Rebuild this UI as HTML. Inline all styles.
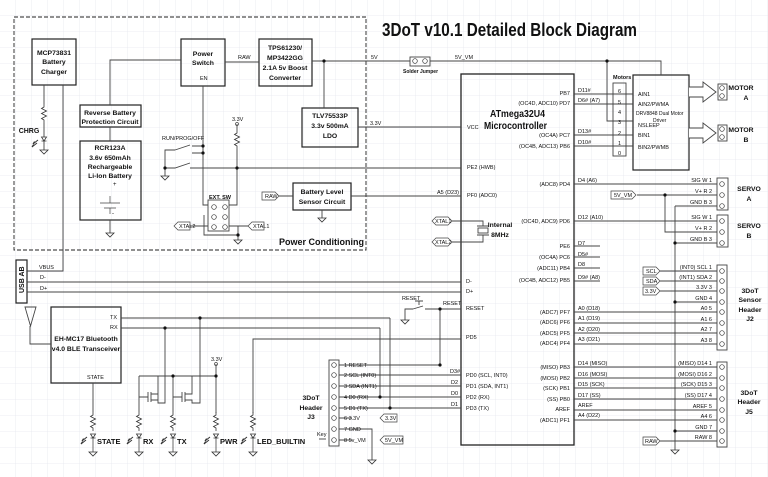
<!DOCTYPE html>
<html><head><meta charset="utf-8"><style>
html,body{margin:0;padding:0;background:#fff}
svg{display:block}
text{font-family:"Liberation Sans",sans-serif;fill:#111}
.s{font-size:5.5px}
.b{font-size:6.8px;font-weight:bold}
.h{font-size:8.5px;font-weight:bold}
</style></head><body>
<svg width="768" height="477" viewBox="0 0 768 477" xmlns="http://www.w3.org/2000/svg">
<defs>
<pattern id="g" width="16" height="16" patternUnits="userSpaceOnUse"><path d="M16 0V16M0 16H16" stroke="#e6e8ef" stroke-width="0.8" fill="none"/></pattern>
<g id="gnd"><path d="M-4 0H4L0 4Z" fill="#fff" stroke="#333" stroke-width="0.8"/></g>
<g id="res"><path d="M0 0V3L-2.5 4.5L2.5 7L-2.5 9.5L2.5 12L-2.5 14.5L0 16V19" fill="none" stroke="#333" stroke-width="0.8"/></g>
<g id="led"><path d="M-2.5 0H2.5L0 4Z M-2.5 4H2.5" fill="none" stroke="#333" stroke-width="0.8"/><path d="M-6 3L-11 7M-7 6L-12 10" stroke="#333" stroke-width="1"/><path d="M-11 7l1.5-2.5M-12 10l1.5-2.5" stroke="#333" stroke-width="1"/></g>
<g id="c"><circle r="2.3" fill="#fff" stroke="#333" stroke-width="0.7"/></g>
</defs>
<rect width="768" height="477" fill="#fff"/>
<rect width="768" height="477" fill="url(#g)"/>

<text x="382" y="36" font-size="18" font-weight="bold" textLength="255" lengthAdjust="spacingAndGlyphs">3DoT v10.1 Detailed Block Diagram</text>

<g fill="none" stroke="#444" stroke-width="0.9">
<rect x="14" y="17" width="352" height="233" stroke-dasharray="4,2" stroke="#222"/>
<rect x="32" y="39" width="44" height="46" stroke="#222" stroke-width="1.2"/>
<rect x="181" y="39" width="44" height="47" stroke="#222" stroke-width="1.2"/>
<rect x="259" y="39" width="53" height="47" stroke="#222" stroke-width="1.2"/>
<rect x="80" y="105" width="61" height="22" stroke="#222" stroke-width="1.2"/>
<rect x="80" y="141" width="61" height="79" stroke="#222" stroke-width="1.2"/>
<rect x="302" y="108" width="56" height="39" stroke="#222" stroke-width="1.2"/>
<rect x="293" y="183" width="58" height="27" stroke="#222" stroke-width="1.2"/>
<rect x="461" y="74" width="113" height="371" stroke="#222" stroke-width="1.3"/>
<rect x="633" y="75" width="56" height="95" stroke="#222" stroke-width="1.2"/>
<rect x="613" y="83" width="13" height="73"/>
<rect x="16" y="260" width="11" height="43" stroke="#222" stroke-width="1.2"/>
<rect x="51" y="307" width="70" height="76" stroke="#222" stroke-width="1.2"/>
<rect x="208" y="200" width="21" height="31"/>
<path d="M63 85V271H27M44 85V104M44 123V137M44 141V150"/>
<path d="M110 105V60H181M225 62H259M312 61H410M430 61H607H661V75M324 61V108M358 127H461"/>
<path d="M110 127V141M110 220V233M203 86V205H208M237 124V130M237 149V205H229M190 168H461"/>
<path d="M351 196H461M279 196H293M322 210V218"/>
<path d="M190 226H208M248 226H229M204 215V235H238V226M238 235V240"/>
<path d="M203 146H192M203 153H192M203 146V153M175 150L190 145M165 168L175 168L190 163M165 168V176M175 150H165V168"/>
<rect x="410" y="57" width="20" height="9"/>
<path d="M607 61V121H633"/>
<path d="M574 94H633M574 104H633M574 135H633M574 146H633"/>
<path d="M689 90H706M689 131H706"/>
<path d="M574 184H717M637 195H717M665 195V232H717M675 206H717M574 221H717M675 206V450M675 243H717"/>
<path d="M574 246H600M574 257H600M574 268H600M574 281H600"/>
<path d="M660 271H717M660 281H717M660 291H717M675 302H717M574 312H717M574 323H717M574 333H717M574 344H717"/>
<path d="M574 367H717M574 378H717M574 388H717M574 399H717M574 410H717M574 420H717M675 431H717M660 441H717"/>
<path d="M452 221H483V226M452 242H483V235M477 226H489M477 235H489"/>
<rect x="478" y="228" width="10" height="5"/>
<path d="M27 282H461M27 292H461"/>
<path d="M405 320V309H413M425 309H461M413 309L423 306M419 305V301M415 301H423M440 309V365"/>
<path d="M339 365H440M339 375H461M339 386H461M339 397H380M339 408H390M380 328V397H461M390 318V408H461"/>
<path d="M339 418H352M339 429H372V460M339 440H352"/>
<path d="M121 318H390M121 328H380M93 383V412M30 326V344H51"/>
<path d="M253 413V339H461"/>
<path d="M139 376H216M216 364V413M139 376V412M173 376V412"/>
<path d="M139 397H148M148 392V402M151 392V402M151 394H158V376M151 400H158V394M158 400V403H165V328"/>
<path d="M173 397H182M182 392V402M185 392V402M185 394H192V376M185 400H192V403H200V318"/>
<path d="M25 307H36L30.5 326Z"/>
<path d="M319 439H326"/>
</g>
<g fill="#fff" stroke="#444" stroke-width="0.9">
<path d="M689 87H703V82L716 92L703 102V97H689"/>
<path d="M689 128H703V123L716 133L703 143V138H689"/>
<rect x="718" y="84" width="9" height="16"/>
<rect x="718" y="125" width="9" height="16"/>
<rect x="717" y="178" width="11" height="32"/>
<rect x="717" y="215" width="11" height="32"/>
<rect x="717" y="265" width="10" height="85"/>
<rect x="717" y="362" width="10" height="85"/>
<rect x="329" y="360" width="10" height="86"/>
</g>
<g>
<use href="#c" x="722" y="88"/><use href="#c" x="722" y="96"/>
<use href="#c" x="722" y="129"/><use href="#c" x="722" y="137"/>
<use href="#c" x="722" y="184"/><use href="#c" x="722" y="195"/><use href="#c" x="722" y="206"/>
<use href="#c" x="722" y="221"/><use href="#c" x="722" y="232"/><use href="#c" x="722" y="243"/>
<use href="#c" x="722" y="271"/><use href="#c" x="722" y="281"/><use href="#c" x="722" y="291"/><use href="#c" x="722" y="302"/><use href="#c" x="722" y="312"/><use href="#c" x="722" y="323"/><use href="#c" x="722" y="333"/><use href="#c" x="722" y="344"/>
<use href="#c" x="722" y="367"/><use href="#c" x="722" y="378"/><use href="#c" x="722" y="388"/><use href="#c" x="722" y="399"/><use href="#c" x="722" y="410"/><use href="#c" x="722" y="420"/><use href="#c" x="722" y="431"/><use href="#c" x="722" y="441"/>
<use href="#c" x="334" y="365"/><use href="#c" x="334" y="375"/><use href="#c" x="334" y="386"/><use href="#c" x="334" y="397"/><use href="#c" x="334" y="408"/><use href="#c" x="334" y="418"/><use href="#c" x="334" y="429"/><use href="#c" x="334" y="440"/>
<use href="#c" x="214" y="207"/><use href="#c" x="225" y="207"/><use href="#c" x="214" y="217"/><use href="#c" x="225" y="217"/><use href="#c" x="214" y="227"/><use href="#c" x="225" y="227"/>
<use href="#c" x="415" y="61"/><use href="#c" x="425" y="61"/>
<use href="#res" x="44" y="104"/><use href="#res" x="237" y="130"/>
<use href="#res" x="93" y="412"/><use href="#res" x="139" y="412"/><use href="#res" x="173" y="412"/><use href="#res" x="216" y="412"/><use href="#res" x="253" y="412"/>
<use href="#led" x="44" y="137"/>
<use href="#led" x="93" y="434"/><use href="#led" x="139" y="434"/><use href="#led" x="173" y="434"/><use href="#led" x="216" y="434"/><use href="#led" x="253" y="434"/>
<path d="M93 438V452M139 438V452M173 438V452M216 438V452M253 438V452" stroke="#444" stroke-width="0.8"/>
<use href="#gnd" x="44" y="150"/><use href="#gnd" x="110" y="233"/><use href="#gnd" x="165" y="176"/><use href="#gnd" x="238" y="240"/><use href="#gnd" x="322" y="218"/>
<use href="#gnd" x="675" y="450"/><use href="#gnd" x="405" y="320"/><use href="#gnd" x="372" y="460"/>
<use href="#gnd" x="93" y="452"/><use href="#gnd" x="139" y="452"/><use href="#gnd" x="173" y="452"/><use href="#gnd" x="216" y="452"/><use href="#gnd" x="253" y="452"/>
</g>
<g fill="#111">
<circle cx="324" cy="61" r="1.6"/><circle cx="607" cy="61" r="1.6"/><circle cx="237" cy="168" r="1.6"/><circle cx="203" cy="146" r="1.6"/><circle cx="203" cy="153" r="1.6"/><circle cx="165" cy="168" r="1.6"/><circle cx="238" cy="235" r="1.6"/>
<circle cx="665" cy="195" r="1.6"/><circle cx="675" cy="243" r="1.6"/><circle cx="675" cy="302" r="1.6"/><circle cx="675" cy="431" r="1.6"/>
<circle cx="440" cy="309" r="1.6"/><circle cx="440" cy="365" r="1.6"/><circle cx="380" cy="397" r="1.6"/><circle cx="390" cy="408" r="1.6"/>
<circle cx="200" cy="318" r="1.6"/><circle cx="165" cy="328" r="1.6"/><circle cx="173" cy="376" r="1.6"/><circle cx="216" cy="376" r="1.6"/>
</g>
<g fill="none" stroke="#444" stroke-width="0.7">
<path d="M237 124m-1.5 0a1.5 1.5 0 1 0 3 0a1.5 1.5 0 1 0 -3 0M216 364m-1.5 0a1.5 1.5 0 1 0 3 0a1.5 1.5 0 1 0 -3 0"/>
<path d="M100 203H120M104 208H116M110 203V196M110 208V214"/>
</g>
<g fill="#fff" stroke="#444" stroke-width="0.7">
<path d="M262 192H275L279 196L275 200H262Z"/>
<path d="M174 226L178 222H190V230H178Z"/>
<path d="M248 226L252 222H264V230H252Z"/>
<path d="M432 221L436 217H448L452 221L448 225H436Z"/>
<path d="M432 242L436 238H448L452 242L448 246H436Z"/>
<path d="M611 191H632L636 195L632 199H611Z"/>
<path d="M643 267H656L660 271L656 275H643Z"/>
<path d="M643 277H656L660 281L656 285H643Z"/>
<path d="M643 287H656L660 291L656 295H643Z"/>
<path d="M643 437H656L660 441L656 445H643Z"/>
<path d="M380 418L384 414H397V422H384Z"/>
<path d="M380 440L384 436H403V444H384Z"/>
</g>
<g class="s">
<text x="265" y="198">RAW</text><text x="179" y="228">XTAL2</text><text x="253" y="228">XTAL1</text>
<text x="435" y="223">XTAL1</text><text x="435" y="244">XTAL2</text>
<text x="614" y="197">5V_VM</text><text x="646" y="273">SCL</text><text x="646" y="283">SDA</text><text x="645" y="293">3.3V</text><text x="645" y="443">RAW</text>
<text x="385" y="420">3.3V</text><text x="385" y="442">5V_VM</text>
<text x="238" y="59">RAW</text><text x="200" y="80">EN</text><text x="371" y="59">5V</text><text x="455" y="59">5V_VM</text>
<text x="403" y="73" font-weight="bold" font-size="5">Solder Jumper</text>
<text x="370" y="125">3.3V</text><text x="232" y="121">3.3V</text>
<text x="162" y="140">RUN/PROG/OFF</text><text x="209" y="199" font-weight="bold">EXT. SW</text>
<text x="437" y="194">A5 (D23)</text>
<text x="467" y="129">VCC</text><text x="467" y="169">PE2 (HWB)</text><text x="467" y="197">PF0 (ADC0)</text>
<text x="466" y="283">D-</text><text x="466" y="293">D+</text><text x="466" y="310">RESET</text><text x="466" y="339">PD5</text>
<text x="466" y="377">PD0 (SCL, INT0)</text><text x="466" y="388">PD1 (SDA, INT1)</text><text x="466" y="399">PD2 (RX)</text><text x="466" y="410">PD3 (TX)</text>
<text x="450" y="373">D3#</text><text x="451" y="384">D2</text><text x="451" y="395">D0</text><text x="451" y="406">D1</text>
<text x="402" y="300">RESET</text><text x="443" y="305">RESET</text>
<text x="39" y="269">VBUS</text><text x="40" y="279">D-</text><text x="40" y="290">D+</text>
<text x="110" y="319">TX</text><text x="110" y="329">RX</text><text x="87" y="379">STATE</text><text x="211" y="361">3.3V</text>
<text x="344" y="367">1  RESET</text><text x="344" y="377">2  SCL (INT0)</text><text x="344" y="388">3  SDA (INT1)</text><text x="344" y="399">4  D0 (RX)</text><text x="344" y="410">5  D1 (TX)</text><text x="344" y="420">6  3.3V</text><text x="344" y="431">7  GND</text><text x="344" y="442">8  5v_VM</text>
<text x="317" y="436">Key</text>
<text x="613" y="79" font-weight="bold">Motors</text>
<text x="618" y="93">6</text><text x="618" y="104">5</text><text x="618" y="114">4</text><text x="618" y="124">3</text><text x="618" y="135">2</text><text x="618" y="145">1</text><text x="618" y="155">0</text>
<text x="638" y="96">AIN1</text><text x="638" y="106">AIN2/PWMA</text><text x="636" y="115" font-size="5">DRV8848 Dual Motor</text><text x="653" y="122" font-size="5">Driver</text><text x="638" y="127">NSLEEP</text><text x="638" y="137">BIN1</text><text x="638" y="149">BIN2/PWMB</text>
</g>
<g class="s" text-anchor="end">
<text x="570" y="95">PB7</text><text x="570" y="105">(OC4D, ADC10) PD7</text><text x="570" y="137">(OC4A) PC7</text><text x="570" y="148">(OC4B, ADC13) PB6</text>
<text x="570" y="186">(ADC8) PD4</text><text x="570" y="223">(OC4D, ADC9) PD6</text><text x="570" y="248">PE6</text><text x="570" y="259">(OC4A) PC6</text><text x="570" y="270">(ADC11) PB4</text><text x="570" y="282">(OC4B, ADC12) PB5</text>
<text x="570" y="314">(ADC7) PF7</text><text x="570" y="324">(ADC6) PF6</text><text x="570" y="335">(ADC5) PF5</text><text x="570" y="345">(ADC4) PF4</text>
<text x="570" y="369">(MISO) PB3</text><text x="570" y="380">(MOSI) PB2</text><text x="570" y="390">(SCK) PB1</text><text x="570" y="401">(SS) PB0</text><text x="570" y="411">AREF</text><text x="570" y="422">(ADC1) PF1</text>
<text x="712" y="182">SIG W  1</text><text x="712" y="193">V+ R  2</text><text x="712" y="204">GND B  3</text>
<text x="712" y="219">SIG W  1</text><text x="712" y="230">V+ R  2</text><text x="712" y="241">GND B  3</text>
<text x="712" y="269">(INT0) SCL  1</text><text x="712" y="279">(INT1) SDA  2</text><text x="712" y="289">3.3V  3</text><text x="712" y="300">GND  4</text><text x="712" y="310">A0  5</text><text x="712" y="321">A1  6</text><text x="712" y="331">A2  7</text><text x="712" y="342">A3  8</text>
<text x="712" y="365">(MISO) D14  1</text><text x="712" y="376">(MOSI) D16  2</text><text x="712" y="386">(SCK) D15  3</text><text x="712" y="397">(SS) D17  4</text><text x="712" y="408">AREF  5</text><text x="712" y="418">A4  6</text><text x="712" y="429">GND  7</text><text x="712" y="439">RAW  8</text>
</g>
<g class="s">
<text x="578" y="92">D11#</text><text x="578" y="102">D6# (A7)</text><text x="578" y="133">D13#</text><text x="578" y="144">D10#</text>
<text x="578" y="182">D4 (A6)</text><text x="578" y="219">D12 (A10)</text><text x="578" y="245">D7</text><text x="578" y="256">D5#</text><text x="578" y="266">D8</text><text x="578" y="279">D9# (A8)</text>
<text x="578" y="310">A0 (D18)</text><text x="578" y="320">A1 (D19)</text><text x="578" y="331">A2 (D20)</text><text x="578" y="341">A3 (D21)</text>
<text x="578" y="365">D14 (MISO)</text><text x="578" y="376">D16 (MOSI)</text><text x="578" y="386">D15 (SCK)</text><text x="578" y="397">D17 (SS)</text><text x="578" y="407">AREF</text><text x="578" y="417">A4 (D22)</text>
</g>
<g class="b" text-anchor="middle">
<text x="54" y="55">MCP73831</text><text x="54" y="64">Battery</text><text x="54" y="74">Charger</text>
<text x="203" y="56">Power</text><text x="203" y="65">Switch</text>
<text x="285" y="50">TPS61230/</text><text x="285" y="60">MP3422GG</text><text x="285" y="70">2.1A 5v Boost</text><text x="285" y="80">Converter</text>
<text x="110" y="115">Reverse Battery</text><text x="110" y="124">Protection Circuit</text>
<text x="110" y="150">RCR123A</text><text x="110" y="160">3.6v 650mAh</text><text x="110" y="169">Rechargeable</text><text x="110" y="178">Li-Ion Battery</text>
<text x="330" y="118">TLV75533P</text><text x="330" y="128">3.3v 500mA</text><text x="330" y="138">LDO</text>
<text x="322" y="194">Battery Level</text><text x="322" y="204">Sensor Circuit</text>
<text x="86" y="341">EH-MC17 Bluetooth</text><text x="86" y="351">v4.0 BLE Transceiver</text>
<text x="29" y="133" font-size="7">CHRG</text>
<text x="741" y="90">MOTOR</text><text x="746" y="100">A</text><text x="741" y="132">MOTOR</text><text x="746" y="142">B</text>
<text x="749" y="191">SERVO</text><text x="749" y="201">A</text><text x="749" y="228">SERVO</text><text x="749" y="238">B</text>
<text x="750" y="293">3DoT</text><text x="750" y="302">Sensor</text><text x="750" y="312">Header</text><text x="750" y="321">J2</text>
<text x="749" y="395">3DoT</text><text x="749" y="404">Header</text><text x="749" y="414">J5</text>
<text x="311" y="400">3DoT</text><text x="311" y="410">Header</text><text x="311" y="419">J3</text>
<text x="500" y="227">Internal</text><text x="500" y="237">8MHz</text>
</g>
<g class="h">
<text x="490" y="117" font-size="10" textLength="55" lengthAdjust="spacingAndGlyphs">ATmega32U4</text>
<text x="484" y="129" font-size="10" textLength="63" lengthAdjust="spacingAndGlyphs">Microcontroller</text>
<text x="279" y="245" font-size="9">Power Conditioning</text>
<text x="97" y="444" font-size="7.5">STATE</text><text x="143" y="444" font-size="7.5">RX</text><text x="177" y="444" font-size="7.5">TX</text><text x="220" y="444" font-size="7.5">PWR</text><text x="257" y="444" font-size="7.5">LED_BUILTIN</text>
</g>
<text transform="translate(24,293) rotate(-90)" font-size="7" font-weight="bold">USB AB</text>
<text x="113" y="186" font-size="6">+</text><text x="112" y="215" font-size="6">-</text>
</svg>
</body></html>
